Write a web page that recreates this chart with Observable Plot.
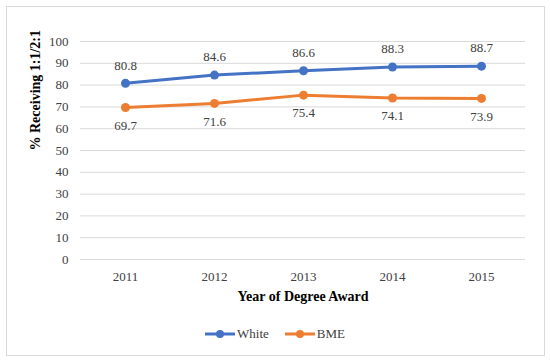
<!DOCTYPE html>
<html>
<head>
<meta charset="utf-8">
<script src="https://cdn.jsdelivr.net/npm/d3@7"></script>
<script src="https://cdn.jsdelivr.net/npm/@observablehq/plot@0.6"></script>
<style>
  html, body { margin: 0; padding: 0; background: #fff; }
  #wrap { position: relative; width: 550px; height: 361px; overflow: hidden; font-family: "Liberation Serif", serif; }
  #border { position: absolute; left: 6px; top: 6px; width: 537px; height: 348px; border: 1px solid #d9d9d9; pointer-events: none; }
  #chart { position: absolute; left: 0; top: 0; }
  #chart svg, #chart svg text, #chart svg g { font-family: "Liberation Serif", serif !important; }
  #legend { position: absolute; left: 0; top: 326px; width: 550px; display: flex; justify-content: center; font-size: 13px; color: #404040; }
  .item { display: flex; align-items: center; margin: 0 8px; }
  .item svg { margin-right: 2px; }
</style>
</head>
<body>
<div id="wrap">
  <div id="border"></div>
  <div id="chart"></div>
  <div id="legend"></div>
</div>
<script>
const years = ["2011", "2012", "2013", "2014", "2015"];
const whiteValues = [80.8, 84.6, 86.6, 88.3, 88.7];
const bmeValues = [69.7, 71.6, 75.4, 74.1, 73.9];
const yTicks = [0, 10, 20, 30, 40, 50, 60, 70, 80, 90, 100];
const seriesNames = ["White", "BME"];
const seriesColors = ["#4472C4", "#ED7D31"];
const xTitle = "Year of Degree Award";
const yTitle = "% Receiving 1:1/2:1";

const white = years.map((y, i) => ({year: y, value: whiteValues[i], series: "White"}));
const bme = years.map((y, i) => ({year: y, value: bmeValues[i], series: "BME"}));
const serif = "Liberation Serif";

const plot = Plot.plot({
  width: 550,
  height: 361,
  marginLeft: 80,
  marginRight: 25,
  marginTop: 41,
  marginBottom: 102,
  style: {fontFamily: serif, fontSize: "13px", color: "#404040", background: "transparent"},
  x: {type: "point", domain: years, padding: 0.5, label: null},
  y: {domain: [0, 100], label: null},
  marks: [
    Plot.gridY(yTicks, {stroke: "#d9d9d9", strokeOpacity: 1, strokeWidth: 1}),
    Plot.axisY(yTicks, {tickSize: 0, tickPadding: 12, fontSize: 13, fontFamily: serif, fill: "#404040", label: null}),
    Plot.axisX({tickSize: 0, tickPadding: 12, fontSize: 13, fontFamily: serif, fill: "#404040", label: null}),
    Plot.lineY(white, {x: "year", y: "value", stroke: seriesColors[0], strokeWidth: 3}),
    Plot.lineY(bme, {x: "year", y: "value", stroke: seriesColors[1], strokeWidth: 3}),
    Plot.dot(white, {x: "year", y: "value", fill: seriesColors[0], r: 4.5}),
    Plot.dot(bme, {x: "year", y: "value", fill: seriesColors[1], r: 4.5}),
    Plot.text(white, {x: "year", y: "value", text: d => d.value.toFixed(1), dy: -18, fontSize: 13, fontFamily: serif, fill: "#404040"}),
    Plot.text(bme, {x: "year", y: "value", text: d => d.value.toFixed(1), dy: 18, fontSize: 13, fontFamily: serif, fill: "#404040"}),
    Plot.text([xTitle], {frameAnchor: "bottom", dy: 41, fontSize: 14, fontFamily: serif, fontWeight: "bold", fill: "#000"}),
    Plot.text([yTitle], {frameAnchor: "left", dx: -45, rotate: -90, fontSize: 14, fontFamily: serif, fontWeight: "bold", fill: "#000"})
  ]
});
document.getElementById("chart").appendChild(plot);

const legend = document.getElementById("legend");
seriesNames.forEach((name, i) => {
  const item = document.createElement("div");
  item.className = "item";
  item.innerHTML = `<svg width="30" height="12"><line x1="0" y1="6" x2="30" y2="6" stroke="${seriesColors[i]}" stroke-width="3"/><circle cx="15" cy="6" r="4" fill="${seriesColors[i]}"/></svg><span>${name}</span>`;
  legend.appendChild(item);
});
</script>
</body>
</html>
